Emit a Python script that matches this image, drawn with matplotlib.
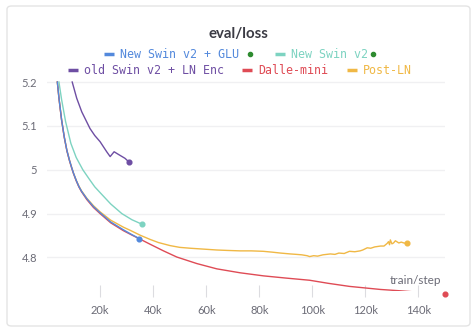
import matplotlib
matplotlib.use("Agg")
import matplotlib.pyplot as plt
from matplotlib.lines import Line2D
from matplotlib.patches import FancyBboxPatch

dalle_step = [3900, 4500, 5500, 6500, 7500, 8500, 9300, 10000, 11000, 12000,
              13000, 15000, 17500, 20000, 24000, 28800, 32000, 35000, 38900,
              43900, 48900, 56500, 64000, 72800, 81600, 90000, 99000, 106000,
              114000, 125700, 133000, 150000]
dalle_loss = [5.2, 5.163, 5.113, 5.074, 5.043, 5.02, 5.004, 4.991, 4.975, 4.961,
              4.95, 4.932, 4.914, 4.9, 4.879, 4.861, 4.851, 4.842, 4.83,
              4.815, 4.801, 4.786, 4.774, 4.765, 4.758, 4.753, 4.748, 4.741,
              4.734, 4.727, 4.724, 4.716]

glu_step = [3900, 4500, 5500, 6500, 7500, 8500, 9300, 10000, 11000, 12000,
            13000, 15000, 17500, 20000, 24000, 28800, 32000, 34800]
glu_loss = [5.2, 5.164, 5.114, 5.075, 5.044, 5.021, 5.005, 4.992, 4.976, 4.962,
            4.951, 4.934, 4.916, 4.902, 4.881, 4.863, 4.852, 4.843]

swin_step = [4500, 5500, 7000, 9000, 11000, 13500, 16000, 18000, 20600, 24000,
             28200, 32000, 35700]
swin_loss = [5.2, 5.16, 5.11, 5.06, 5.028, 5.0, 4.978, 4.961, 4.944, 4.922,
             4.9, 4.886, 4.876]

old_step = [9500, 11200, 13100, 16200, 18000, 20000, 22500, 23800, 25300, 26900,
            29400, 31000]
old_loss = [5.2, 5.163, 5.132, 5.094, 5.078, 5.064, 5.041, 5.03, 5.041, 5.035,
            5.026, 5.017]

post_step = [3900, 4500, 5500, 6500, 7500, 8500, 9300, 10000, 11000, 12000,
             13000, 15000, 17500, 20000, 24000, 28800, 31300, 35000, 38900, 42000,
             46400, 50000, 54000, 59000, 64000, 68000, 72800, 77000, 81500, 85000,
             88000, 91700, 94000, 96000, 98000, 99000, 100500, 102000, 104000,
             106800, 108500, 110000, 112000, 114000, 116000, 118000, 119000,
             120700, 122000, 123500, 125700, 127000, 128200, 128700, 129100,
             129400, 130000, 130600, 131300, 132600, 133500, 134500, 135700]
post_loss = [5.2, 5.164, 5.114, 5.075, 5.044, 5.021, 5.005, 4.992, 4.976, 4.963,
             4.952, 4.935, 4.918, 4.904, 4.885, 4.869, 4.862, 4.851, 4.841, 4.834,
             4.827, 4.823, 4.821, 4.819, 4.817, 4.816, 4.815, 4.815, 4.814, 4.812,
             4.81, 4.808, 4.807, 4.806, 4.804, 4.802, 4.804, 4.803, 4.806,
             4.808, 4.807, 4.81, 4.809, 4.814, 4.813, 4.815, 4.817,
             4.822, 4.821, 4.824, 4.826, 4.826, 4.832, 4.836, 4.829,
             4.84, 4.831, 4.833, 4.838, 4.833, 4.835, 4.833, 4.832]

xticks = [20000, 40000, 60000, 80000, 100000, 120000, 140000]
xtick_labels = ["20k", "40k", "60k", "80k", "100k", "120k", "140k"]
yticks = [4.8, 4.9, 5.0, 5.1, 5.2]
ytick_labels = ["4.8", "4.9", "5", "5.1", "5.2"]

RED = "#df4b55"
BLUE = "#5389dc"
TEAL = "#7dd3c1"
PURPLE = "#6e4ea3"
ORANGE = "#f0b845"
GREEN = "#2e8b30"
GRAY = "#6b6b76"

W, H = 474, 331
fig = plt.figure(figsize=(W / 100, H / 100), dpi=100)

# panel frame
fig.add_artist(FancyBboxPatch((7 / W, 5 / H), 463 / W, 320 / H,
                              boxstyle="round,pad=0,rounding_size=0.01",
                              transform=fig.transFigure, fc="none",
                              ec="#e4e4e4", lw=1, zorder=-1))

ax = fig.add_axes([47 / W, 1 - 291 / H, 398 / W, (291 - 80) / H])
ax.set_facecolor("none")

ax.plot(post_step, post_loss, color=ORANGE, lw=1.0)
ax.plot(dalle_step, dalle_loss, color=RED, lw=1.0)
ax.plot(glu_step, glu_loss, color=BLUE, lw=1.0)
ax.plot(swin_step, swin_loss, color=TEAL, lw=1.0)
ax.plot(old_step, old_loss, color=PURPLE, lw=1.0)

# last point markers
for xs, ys, c in [(post_step, post_loss, ORANGE), (dalle_step, dalle_loss, RED),
                  (glu_step, glu_loss, BLUE), (swin_step, swin_loss, TEAL),
                  (old_step, old_loss, PURPLE)]:
    ax.plot(xs[-1], ys[-1], "o", color=c, ms=3.4, clip_on=False)

ax.set_xlim(0, 150000)
ax.set_ylim(4.7235, 5.2046)
ax.set_xticks(xticks)
ax.set_xticklabels(xtick_labels)
ax.set_yticks(yticks)
ax.set_yticklabels(ytick_labels)
for s in ax.spines.values():
    s.set_visible(False)
ax.grid(axis="y", color="#f0f0f2", lw=1)
ax.set_axisbelow(True)
ax.tick_params(axis="x", direction="inout", length=8, color="#dcdce0",
               labelcolor=GRAY, labelsize=8, pad=6)
ax.tick_params(axis="y", length=0, labelcolor=GRAY, labelsize=8, pad=7)
for lab in ax.get_xticklabels() + ax.get_yticklabels():
    lab.set_family("Lato")

ax.text(0.99, 0.05, "train/step", transform=ax.transAxes, ha="right",
        va="center", color=GRAY, fontsize=8.5, family="Lato")

fig.text(238 / W, 1 - 34 / H, "eval/loss", ha="center", va="center",
         fontsize=10.8, fontweight="bold", color="#3b3b44", family="Lato")

# legend, built by hand like the W&B header
mono = "DejaVu Sans Mono"
fs = 8.4
entries = [
    (54, 104, "New Swin v2 + GLU", BLUE, 250),
    (54, 275, "New Swin v2", TEAL, 373),
    (70, 68, "old Swin v2 + LN Enc", PURPLE, None),
    (70, 242, "Dalle-mini", RED, None),
    (70, 347, "Post-LN", ORANGE, None),
]
for y, x0, label, c, dot in entries:
    yf = 1 - y / H
    fig.add_artist(Line2D([x0 / W, (x0 + 10) / W], [yf, yf], color=c, lw=2.5,
                          solid_capstyle="butt", transform=fig.transFigure))
    fig.text((x0 + 16) / W, yf, label, color=c, fontsize=fs, family=mono,
             ha="left", va="center")
    if dot is not None:
        fig.add_artist(Line2D([dot / W], [yf], marker="o", ms=3, color=GREEN,
                              transform=fig.transFigure))

fig.savefig("out.png", dpi=100)
